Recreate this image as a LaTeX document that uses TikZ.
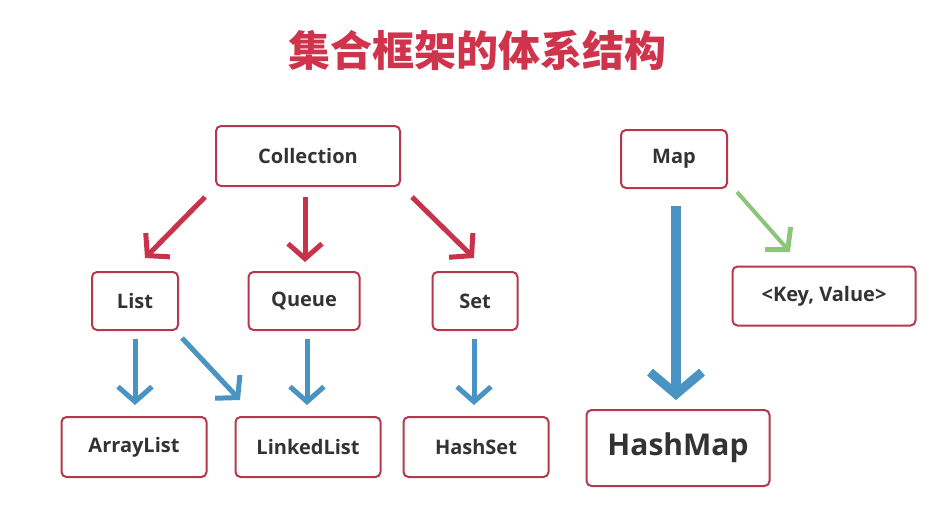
\documentclass[tikz,border=0pt]{standalone}
\usepackage{fontspec}
\setmainfont{Open Sans}
\newfontfamily\cjk{Noto Sans CJK SC}
\usetikzlibrary{arrows.meta}
\definecolor{bd}{HTML}{B5384C}
\definecolor{ar}{HTML}{C8324A}
\definecolor{ab}{HTML}{4A94C4}
\definecolor{ag}{HTML}{8CC47A}
\definecolor{tt}{HTML}{D0344C}
\begin{document}
\begin{tikzpicture}[x=1pt,y=-1pt,
 box/.style={draw=bd,line width=2pt,rounded corners=5pt,fill=white,font=\bfseries\fontsize{20}{24}\selectfont,text=black!80,inner sep=0pt},
 arr/.style={line width=5pt,-{Straight Barb[length=15pt,width=34pt,line width=5pt]}}]
\useasboundingbox (0,0) rectangle (936,523);
\fill[white] (0,0) rectangle (936,523);
\node[font=\cjk\bfseries\fontsize{42}{46}\selectfont,text=tt] (title) at (477,50) {集合框架的体系结构};
\node[box,minimum width=184pt,minimum height=60pt] (col) at (308,156) {Collection};
\node[box,minimum width=106pt,minimum height=58pt] (map) at (674,159) {Map};
\node[box,minimum width=86pt,minimum height=58pt] (list) at (135,301) {List};
\node[box,minimum width=111pt,minimum height=58pt] (queue) at (304,301) {Queue};
\node[box,minimum width=85pt,minimum height=58pt] (set) at (475,301) {Set};
\node[box,minimum width=183pt,minimum height=59pt] (kv) at (824,296) {<Key, Value>};
\node[box,minimum width=145pt,minimum height=60pt] (al) at (134,447) {ArrayList};
\node[box,minimum width=145pt,minimum height=60pt] (ll) at (308,447) {LinkedList};
\node[box,minimum width=145pt,minimum height=60pt] (hs) at (476,447) {HashSet};
\node[box,minimum width=183pt,minimum height=76pt,font=\bfseries\fontsize{30}{34}\selectfont] (hm) at (678,448) {HashMap};
\coordinate (c1) at (205,197); \coordinate (c1e) at (145,258);
\coordinate (c3) at (412,197); \coordinate (c3e) at (474,258);
\coordinate (l2) at (182,338); \coordinate (l2e) at (240,400);
\coordinate (m2) at (737,192); \coordinate (m2e) at (790,252);
\draw[arr,ar] (c1) -- (c1e);
\draw[arr,ar] (col.south -| 305,0) ++(0,10) -- (305,262);
\draw[arr,ar] (c3) -- (c3e);
\draw[arr,ab] (list.south) ++(0,8) -- (135,405);
\draw[arr,ab] (l2) -- (l2e);
\draw[arr,ab] (queue.south -| 307,0) ++(0,8) -- (307,405);
\draw[arr,ab] (set.south -| 474,0) ++(0,8) -- (474,405);
\draw[line width=10pt,ab,-{Straight Barb[length=22pt,width=52pt,line width=9pt]}] (map.south -| 676,0) ++(0,17) -- (676,400);
\draw[arr,ag,line width=4pt] (m2) -- (m2e);
\end{tikzpicture}
\end{document}
